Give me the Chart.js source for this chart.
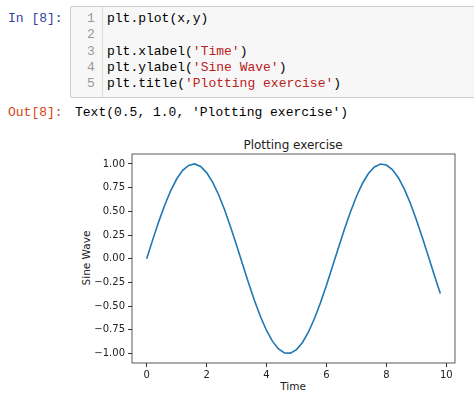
<!DOCTYPE html>
<html><head><meta charset="utf-8">
<script src="https://cdn.jsdelivr.net/npm/chart.js@4"></script>
<style>
body{margin:0;width:474px;height:402px;background:#fff;position:relative;overflow:hidden;font-family:"Liberation Mono","DejaVu Sans Mono",monospace;font-size:13px}
.a{position:absolute;white-space:pre;line-height:16px}
.s{color:#ba2121}
.t{position:absolute;font-family:"DejaVu Sans",sans-serif;color:#222;white-space:nowrap}
</style></head><body>
<div class="a" style="left:8px;top:11px;color:#303f9f">In [8]:</div>
<div style="position:absolute;left:70px;top:6px;width:410px;height:90px;background:#f7f7f7;border:1px solid #cfcfcf;border-radius:2px"></div>
<div style="position:absolute;left:102px;top:7px;width:1px;height:90px;background:#ddd"></div>
<div class="a" style="left:87px;top:11px;color:#999;line-height:16.3px">1
2
3
4
5</div>
<div class="a" style="left:107px;top:11px;color:#000;line-height:16.3px">plt.plot(x,y)

plt.xlabel(<span class="s">'Time'</span>)
plt.ylabel(<span class="s">'Sine Wave'</span>)
plt.title(<span class="s">'Plotting exercise'</span>)</div>
<div class="a" style="left:8px;top:105px;color:#d84315">Out[8]:</div>
<div class="a" style="left:75px;top:105px;color:#000">Text(0.5, 1.0, 'Plotting exercise')</div>
<div class="t" style="left:293px;top:138px;font-size:12px;transform:translateX(-50%)">Plotting exercise</div>
<div class="t" style="left:293px;top:380px;font-size:10.5px;transform:translateX(-50%)">Time</div>
<div class="t" style="left:86px;top:258px;font-size:10.5px;transform:translate(-50%,-50%) rotate(-90deg)">Sine Wave</div>
<div style="position:absolute;left:0;top:130px;width:474px;height:272px"><canvas id="c"></canvas></div>
<script>
const xValues=[0,0.2,0.4,0.6,0.8,1.0,1.2,1.4,1.6,1.8,2.0,2.2,2.4,2.6,2.8,3.0,3.2,3.4,3.6,3.8,4.0,4.2,4.4,4.6,4.8,5.0,5.2,5.4,5.6,5.8,6.0,6.2,6.4,6.6,6.8,7.0,7.2,7.4,7.6,7.8,8.0,8.2,8.4,8.6,8.8,9.0,9.2,9.4,9.6,9.8];
const yValues=[0,0.199,0.389,0.565,0.717,0.841,0.932,0.985,1.000,0.974,0.909,0.808,0.675,0.516,0.335,0.141,-0.058,-0.256,-0.443,-0.612,-0.757,-0.872,-0.952,-0.994,-0.996,-0.959,-0.883,-0.773,-0.631,-0.465,-0.279,-0.083,0.117,0.312,0.494,0.657,0.794,0.899,0.968,0.999,0.989,0.941,0.855,0.734,0.585,0.412,0.223,0.025,-0.174,-0.366];
const xTicks=[0,2,4,6,8,10];
const yTicks=[-1,-0.75,-0.5,-0.25,0,0.25,0.5,0.75,1];
const frame={id:'frame',afterDraw(ch){const a=ch.chartArea,c=ch.ctx;c.save();c.strokeStyle='#333';c.lineWidth=0.8;c.strokeRect(a.left,a.top,a.right-a.left,a.bottom-a.top);c.restore();}};
const tickFont={family:'DejaVu Sans',size:10};
new Chart(document.getElementById('c'),{type:'line',
data:{datasets:[{data:xValues.map((x,i)=>({x,y:yValues[i]})),borderColor:'#1f77b4',borderWidth:1.6,pointRadius:0,tension:0,fill:false}]},
options:{responsive:true,maintainAspectRatio:false,animation:false,
layout:{padding:{left:0,right:19,top:24,bottom:0}},
plugins:{legend:{display:false},tooltip:{enabled:false}},
scales:{
x:{type:'linear',min:-0.49,max:10.29,afterBuildTicks(s){s.ticks=xTicks.map(v=>({value:v}))},afterFit(s){s.height=39},
 grid:{drawOnChartArea:false,drawTicks:true,tickLength:4,tickColor:'#333'},border:{display:false},
 ticks:{color:'#222',font:tickFont,padding:2,maxRotation:0,callback:v=>String(v)}},
y:{type:'linear',min:-1.1,max:1.105,afterBuildTicks(s){s.ticks=yTicks.map(v=>({value:v}))},afterFit(s){s.width=132},
 grid:{drawOnChartArea:false,drawTicks:true,tickLength:4,tickColor:'#333'},border:{display:false},
 ticks:{color:'#222',font:tickFont,padding:3,callback:v=>(v<0?'\u2212':'')+Math.abs(v).toFixed(2)}}
}},plugins:[frame]});
</script></body></html>
